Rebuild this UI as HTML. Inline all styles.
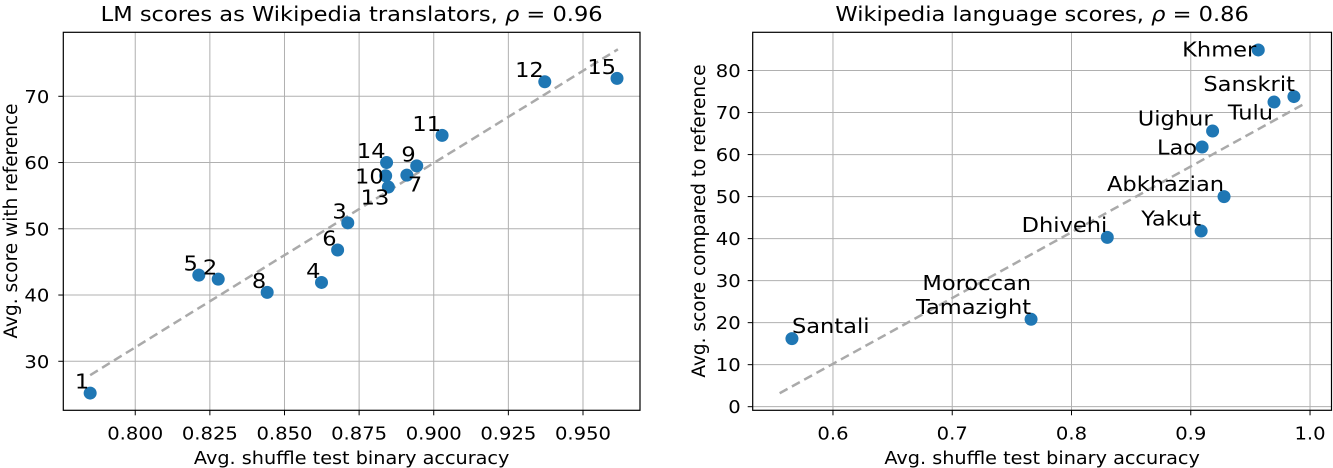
<!DOCTYPE html>
<html><head><meta charset="utf-8"><style>
html,body{margin:0;padding:0;background:#fff;}
svg{display:block;font-family:"DejaVu Sans","Liberation Sans",sans-serif;}
</style></head><body>
<svg id="fig" width="1333" height="468" viewBox="0 0 1333 468"></svg>
<script>
// Left chart data
const leftLabels = ["1","5","2","8","4","6","3","10","14","13","7","9","11","12","15"];
const leftX = [0.7849,0.8213,0.8278,0.8442,0.8624,0.8678,0.8712,0.8839,0.8842,0.8848,0.8910,0.8943,0.9028,0.9372,0.9614];
const leftY = [25.2,43.0,42.4,40.4,41.9,46.8,50.9,58.0,60.0,56.3,58.1,59.5,64.1,72.2,72.7];
const leftFitX = [0.7849,0.9617];
const leftFitY = [27.9,77.1];
const leftXTicks = [0.800,0.825,0.850,0.875,0.900,0.925,0.950];
const leftXTickLabels = ["0.800","0.825","0.850","0.875","0.900","0.925","0.950"];
const leftYTicks = [30,40,50,60,70];
// Right chart data
const rightLabels = ["Khmer","Sanskrit","Tulu","Uighur","Lao","Abkhazian","Yakut","Dhivehi","Moroccan\nTamazight","Santali"];
const rightX = [0.9566,0.9865,0.9698,0.9183,0.9095,0.9279,0.9087,0.8300,0.7661,0.5656];
const rightY = [84.9,73.8,72.5,65.6,61.8,50.0,41.8,40.3,20.8,16.2];
const rightFitX = [0.5553,0.9953];
const rightFitY = [3.2,72.1];
const rightXTicks = [0.6,0.7,0.8,0.9,1.0];
const rightXTickLabels = ["0.6","0.7","0.8","0.9","1.0"];
const rightYTicks = [0,10,20,30,40,50,60,70,80];

const NS="http://www.w3.org/2000/svg";
const svg=document.getElementById('fig');
const SX=1.1;
function mk(tag,attrs,parent){const e=document.createElementNS(NS,tag);for(const k in attrs)e.setAttribute(k,attrs[k]);(parent||svg).appendChild(e);return e;}
function txt(parent,x,y,size,anchor){
  return mk('text',{x:0,y:0,'text-anchor':anchor,'font-size':size,fill:'#000',transform:'translate('+x+','+y+') scale('+SX+',1)'},parent);
}

function drawPanel(cfg){
  const g=mk('g',{});
  
  
  const L=cfg.box[0],T=cfg.box[1],R=cfg.box[2],B=cfg.box[3];
  const sx=v=>L+(v-cfg.xlim[0])/(cfg.xlim[1]-cfg.xlim[0])*(R-L);
  const sy=v=>B-(v-cfg.ylim[0])/(cfg.ylim[1]-cfg.ylim[0])*(B-T);
  cfg.xt.forEach((t,i)=>{
    const x=sx(t);
    const gl=mk('line',{x1:x,x2:x,y1:T,y2:B,stroke:'#b0b0b0','stroke-width':1},g);
    
    
    mk('line',{x1:x,x2:x,y1:B,y2:B+5,stroke:'#000','stroke-width':1},g);
    const tl=txt(g,x,B+29,17.8,'middle');
    tl.textContent=cfg.xtl[i];
    
    
  });
  cfg.yt.forEach(t=>{
    const y=sy(t);
    const gl=mk('line',{x1:L,x2:R,y1:y,y2:y,stroke:'#b0b0b0','stroke-width':1},g);
    
    
    mk('line',{x1:L-5,x2:L,y1:y,y2:y,stroke:'#000','stroke-width':1},g);
    const tl=txt(g,L-cfg.tickGap,y+6.5,17.8,'end');
    tl.textContent=String(t);
    
    
  });
  const fl=mk('line',{x1:sx(cfg.fx[0]),y1:sy(cfg.fy[0]),x2:sx(cfg.fx[1]),y2:sy(cfg.fy[1]),stroke:'#aaaaaa','stroke-width':2.5,'stroke-dasharray':'9,5'},g);
  
  
  cfg.px.forEach((v,i)=>{
    const c=mk('circle',{cx:sx(v),cy:sy(cfg.py[i]),r:6.5,fill:'#1f77b4'},g);
    
    
  });
  cfg.px.forEach((v,i)=>{
    const o=cfg.off(i);
    const x=sx(v)+o[0], y=sy(cfg.py[i])+o[1];
    const lines=cfg.labels[i].split('\n');
    const t=txt(g,x,y,20.5,o[2]);
    
    
    lines.forEach((ln,j)=>{
      const ts=mk('tspan',{x:0,y:7.5-(lines.length-1-j)*24},t);
      ts.textContent=ln;
    });
  });
  const fr=mk('rect',{x:L,y:T,width:R-L,height:B-T,fill:'none',stroke:'#000','stroke-width':1.2},g);
  
  
  const tt=txt(g,(L+R)/2,21,20.5,'middle');
  tt.innerHTML=cfg.title+', <tspan font-style="italic">ρ</tspan> = '+cfg.rho;
  
  
  const xl=txt(g,(L+R)/2,464,17.5,'middle');
  xl.textContent='Avg. shuffle test binary accuracy';
  
  
  const yl=mk('text',{x:0,y:0,'text-anchor':'middle','font-size':18.5,fill:'#000',transform:'translate('+cfg.ylx+',221) rotate(-90)'},g);
  yl.textContent=cfg.ylabel;
  
  
}

drawPanel({name:'left-chart',box:[63.3,32.3,640,410.3],xlim:[0.7759,0.9691],ylim:[22.6,79.66],
  xt:leftXTicks,xtl:leftXTickLabels,yt:leftYTicks,tickGap:14,fx:leftFitX,fy:leftFitY,px:leftX,py:leftY,labels:leftLabels,
  title:'LM scores as Wikipedia translators',rho:'0.96',ylabel:'Avg. score with reference',ylx:17,
  off:i=>{const l=leftLabels[i];
    if(l==='10')return[-2,0,'end'];
    if(l==='13')return[1,10,'end'];
    if(l==='7')return[1,9,'start'];
    return[-1,-12,'end'];}});

drawPanel({name:'right-chart',box:[752.7,32.3,1331.5,410.3],xlim:[0.5327,1.018],ylim:[-0.86,89.1],
  xt:rightXTicks,xtl:rightXTickLabels,yt:rightYTicks,tickGap:12,fx:rightFitX,fy:rightFitY,px:rightX,py:rightY,labels:rightLabels,
  title:'Wikipedia language scores',rho:'0.86',ylabel:'Avg. score compared to reference',ylx:705,
  off:i=>{const l=rightLabels[i];
    if(l==='Khmer')return[-2,-1,'end'];
    if(l==='Sanskrit')return[1,-13,'end'];
    if(l==='Tulu')return[-1,10,'end'];
    if(l==='Lao')return[-5,0,'end'];
    if(l==='Santali')return[0,-13,'start'];
    return[0,-13,'end'];}});
</script>
</body></html>
